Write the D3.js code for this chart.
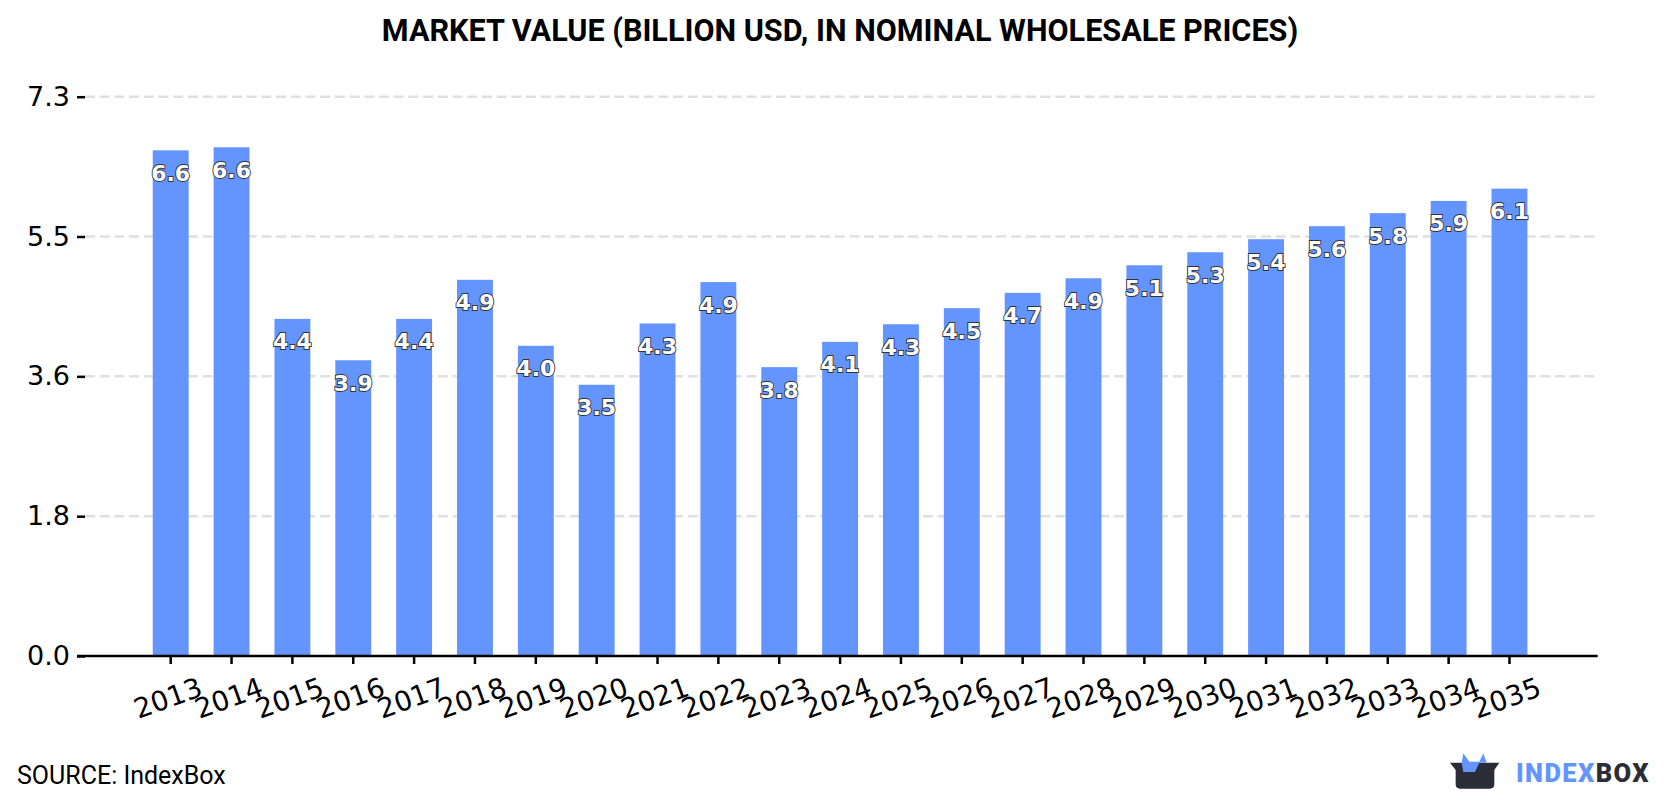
<!DOCTYPE html>
<html>
<head>
<meta charset="utf-8">
<script src="https://cdn.jsdelivr.net/npm/d3@7"></script>
<style>
  html, body { margin: 0; padding: 0; background: #fff; }
  svg { display: block; }
  .tick text { fill: #000; font-family: "DejaVu Sans", sans-serif; }
</style>
</head>
<body>
<svg id="chart" width="1680" height="800"></svg>
<script>
const years = ["2013","2014","2015","2016","2017","2018","2019","2020","2021","2022","2023","2024","2025","2026","2027","2028","2029","2030","2031","2032","2033","2034","2035"];
const marketValue = [6.60,6.64,4.40,3.86,4.40,4.91,4.049,3.54,4.34,4.88,3.77,4.10,4.33,4.54,4.74,4.93,5.10,5.27,5.44,5.61,5.78,5.94,6.10];
const yTicks = [0, 1.825, 3.65, 5.475, 7.3];
const titleText = "MARKET VALUE (BILLION USD, IN NOMINAL WHOLESALE PRICES)";
const sourceText = "SOURCE: IndexBox";

const svg = d3.select("#chart");
const plotLeft = 85, plotRight = 1596, axisEnd = 1597.7, plotTop = 96.7, plotBase = 656;

const x = d3.scaleBand().domain(years).range([plotLeft, plotRight])
  .paddingInner(0.41).paddingOuter(1.12).align(0.497);
const y = d3.scaleLinear().domain([0, 7.3]).range([plotBase, plotTop]);

// Dashed horizontal grid, skipping the zero line
svg.append("g").selectAll("line").data(yTicks.slice(1)).join("line")
  .attr("x1", plotLeft).attr("x2", axisEnd)
  .attr("y1", d => y(d)).attr("y2", d => y(d))
  .attr("stroke", "#e0e0e0").attr("stroke-width", 2.5)
  .attr("stroke-dasharray", "10 4.7");

// Bars
svg.append("g").selectAll("rect").data(marketValue).join("rect")
  .attr("x", (d, i) => x(years[i]))
  .attr("y", d => y(d))
  .attr("width", x.bandwidth())
  .attr("height", d => plotBase - y(d))
  .attr("fill", "#6495ff");

// Y axis
const yAxis = svg.append("g").attr("transform", `translate(${plotLeft},0)`)
  .call(d3.axisLeft(y).tickValues(yTicks).tickSize(8).tickPadding(7).tickFormat(d => d.toFixed(1)));
yAxis.select(".domain").remove();
yAxis.selectAll(".tick line").attr("stroke", "#000").attr("stroke-width", 2.5);
yAxis.selectAll(".tick text").style("font-size", "27px");

// X axis with slanted year labels
const xAxis = svg.append("g").attr("transform", `translate(0,${plotBase})`)
  .call(d3.axisBottom(x).tickSize(8).tickSizeOuter(0));
xAxis.select(".domain").remove();
xAxis.selectAll(".tick line").attr("stroke", "#000").attr("stroke-width", 2.5);
xAxis.selectAll(".tick text")
  .style("font-size", "27.5px")
  .attr("text-anchor", "middle")
  .attr("dy", 0).attr("y", 0)
  .attr("transform", "translate(0.5,51) rotate(-20)");

// Baseline runs out to the y tick on the left
svg.append("line").attr("x1", 77).attr("x2", axisEnd)
  .attr("y1", plotBase).attr("y2", plotBase)
  .attr("stroke", "#000").attr("stroke-width", 2.5);

// Value labels inside the bars
svg.append("g").selectAll("text").data(marketValue).join("text")
  .attr("x", (d, i) => x(years[i]) + x.bandwidth() / 2)
  .attr("y", d => y(d) + 30.5)
  .attr("text-anchor", "middle")
  .attr("font-family", "'DejaVu Sans', sans-serif")
  .attr("font-weight", "bold")
  .attr("font-size", 22)
  .attr("fill", "#fff")
  .attr("stroke", "#333")
  .attr("stroke-width", 1.8)
  .attr("paint-order", "stroke")
  .text(d => d.toFixed(1));

// Title and source
svg.append("text").attr("x", 840).attr("y", 41)
  .attr("text-anchor", "middle")
  .attr("font-family", "Roboto, sans-serif").attr("font-weight", "bold")
  .attr("font-size", 30.6).attr("fill", "#000").text(titleText);
svg.append("text").attr("x", 17).attr("y", 784)
  .attr("font-family", "Roboto, sans-serif")
  .attr("font-size", 25).attr("fill", "#000").text(sourceText);

// IndexBox logo
const logo = svg.append("g").attr("transform", "translate(1400,720) scale(0.3333)");
logo.append("path")
  .attr("d", "M150,128 L298,128 L283,150 L283,193 Q283,206 270,206 L180,206 Q167,206 167,193 L167,150 Z")
  .attr("fill", "#2a2c38");
logo.append("path")
  .attr("d", "M185,128 L190,100 L208,125 L238,125 L250,100 L260,128 L238,128 L225,156 L190,156 Z")
  .attr("fill", "#6495ff");
const wordmark = svg.append("text").attr("x", 1516).attr("y", 782)
  .attr("font-family", "Roboto, sans-serif").attr("font-weight", "900")
  .attr("font-size", 25.5).attr("letter-spacing", 1.4);
wordmark.append("tspan").attr("fill", "#6495ff").text("INDEX");
wordmark.append("tspan").attr("fill", "#2a2c38").text("BOX");
</script>
</body>
</html>
